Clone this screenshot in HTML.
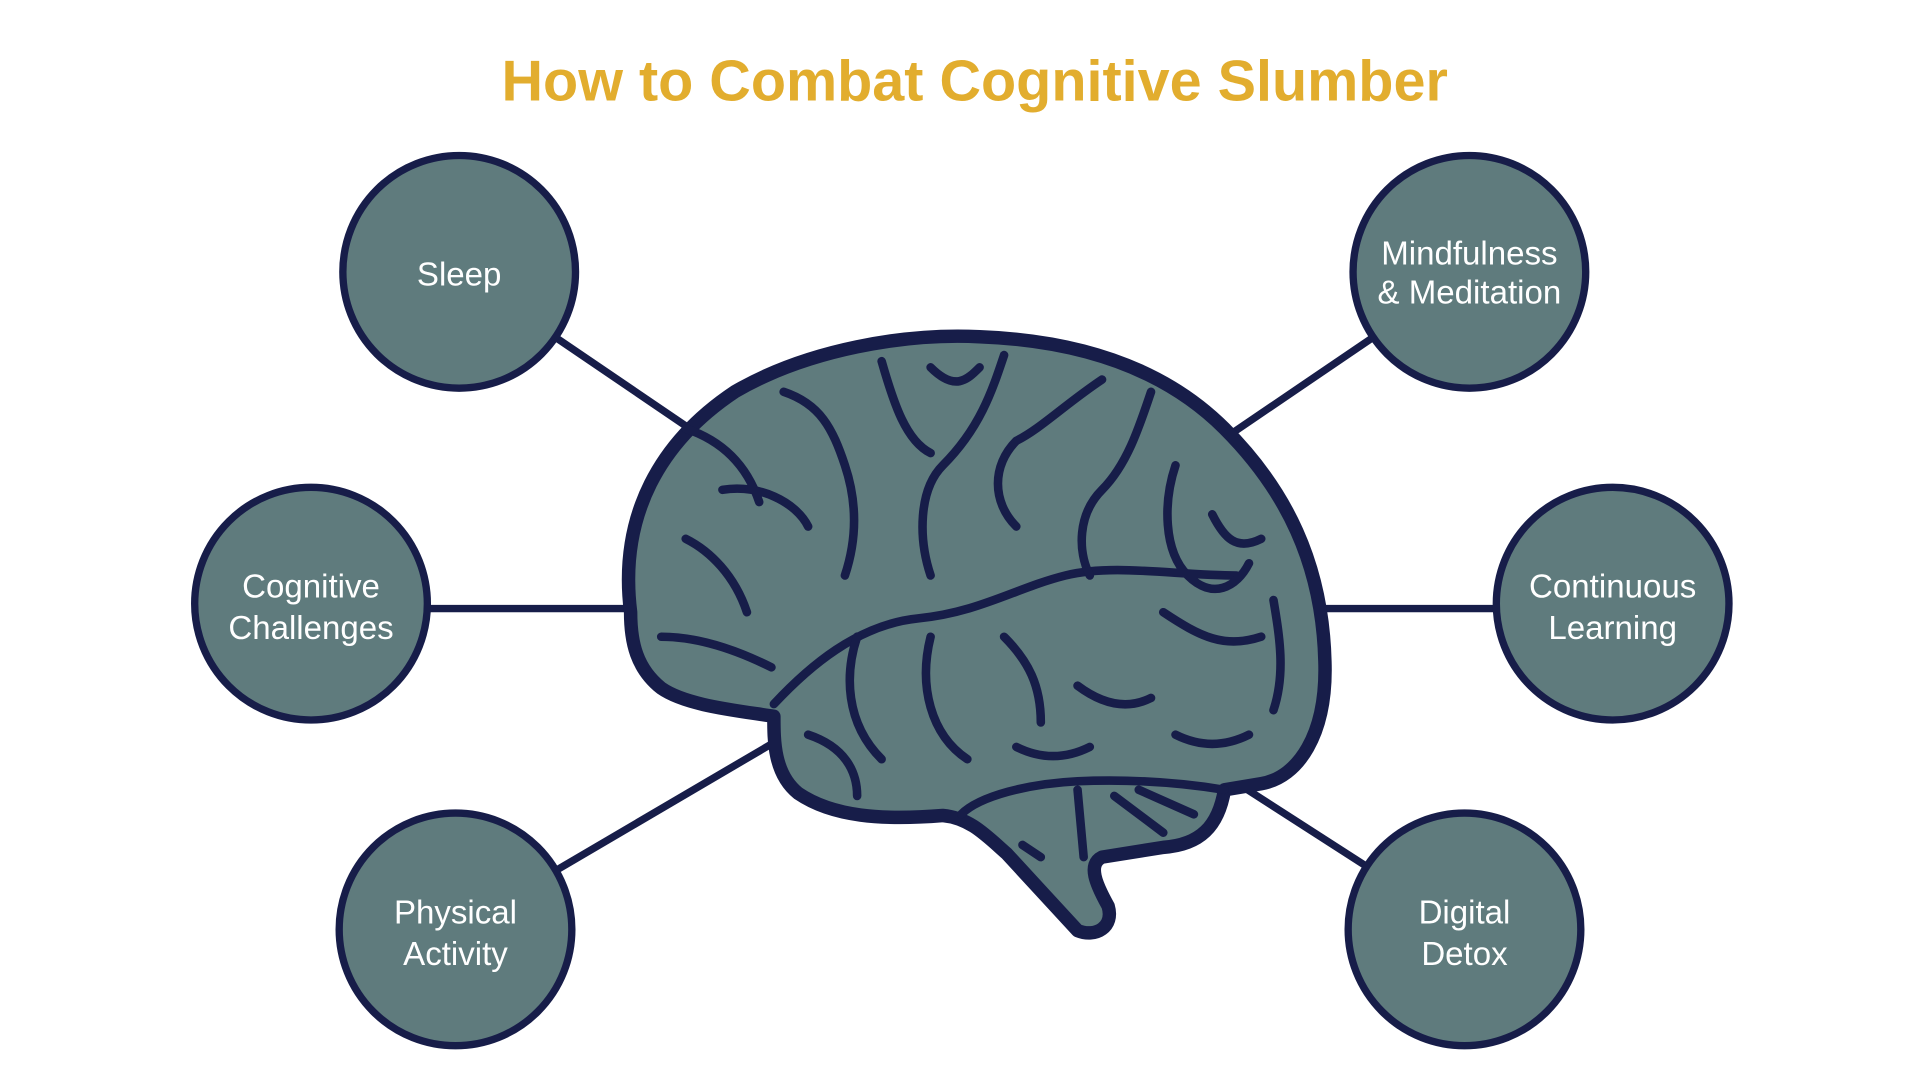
<!DOCTYPE html>
<html><head><meta charset="utf-8"><style>
html,body{margin:0;padding:0;background:#fff;width:1920px;height:1080px;overflow:hidden}
svg{display:block}
</style></head><body>
<svg width="1920" height="1080" viewBox="0 0 1568 882" xmlns="http://www.w3.org/2000/svg">
<text x="796" y="82" text-anchor="middle" font-family="Liberation Sans, sans-serif" font-weight="bold" font-size="47" fill="#E2AD2E">How to Combat Cognitive Slumber</text>
<g stroke="#171D49" stroke-width="6" fill="none">
<line x1="375" y1="222" x2="600" y2="375"/>
<line x1="1200" y1="222" x2="975" y2="375"/>
<line x1="254" y1="497" x2="540" y2="497"/>
<line x1="1317" y1="497" x2="1060" y2="497"/>
<line x1="372" y1="759" x2="660" y2="590"/>
<line x1="1196" y1="759" x2="980" y2="620"/>
</g>
<!-- brain -->
<path d="M515,500 C505,420 540,360 600,320 C660,285 740,272 800,275 C880,278 950,300 1000,350 C1050,400 1080,460 1082,540 C1084,600 1060,635 1030,640 L1000,645 C995,675 980,690 950,692 L900,700 C888,706 895,722 905,740 C910,757 895,766 880,760 L822,697 C805,682 792,668 770,666 C720,670 680,667 652,648 C632,632 632,605 632,585 C600,580 560,576 540,562 C520,546 515,525 515,500 Z" fill="#5F7B7D" stroke="#171D49" stroke-width="11" stroke-linejoin="round"/>
<g stroke="#171D49" stroke-width="7" fill="none" stroke-linecap="round" stroke-linejoin="round">
<path d="M632,575 C660,545 700,510 750,505 C800,500 830,480 870,470 C910,460 960,470 1010,470"/>
<path d="M785,665 C800,650 840,640 880,638 C930,636 970,640 1000,645"/>
<path d="M880,645 L885,700 M910,650 L950,680 M930,645 L975,665"/>
<path d="M560,350 C590,360 610,380 620,410 M590,400 C620,395 650,410 660,430"/>
<path d="M640,320 C670,330 680,350 690,380 C700,410 700,440 690,470"/>
<path d="M720,295 C730,330 740,360 760,370 M760,300 C780,320 790,310 800,300"/>
<path d="M820,290 C810,320 800,350 770,380 C750,400 750,440 760,470"/>
<path d="M900,310 C870,330 850,350 830,360 C810,380 810,410 830,430"/>
<path d="M940,320 C930,350 920,380 900,400 C880,420 880,450 890,470"/>
<path d="M960,380 C950,410 950,450 970,470 C990,490 1010,480 1020,460"/>
<path d="M560,440 C580,450 600,470 610,500 M540,520 C570,520 600,530 630,545"/>
<path d="M990,420 C1000,440 1010,450 1030,440 M1040,490 C1045,520 1050,550 1040,580"/>
<path d="M700,520 C690,550 690,590 720,620 M760,520 C750,560 760,600 790,620"/>
<path d="M820,520 C840,540 850,560 850,590 M880,560 C900,575 920,580 940,570"/>
<path d="M950,500 C980,520 1000,530 1030,520 M960,600 C980,610 1000,610 1020,600"/>
<path d="M660,600 C690,610 700,630 700,650 M830,610 C850,620 870,620 890,610"/>
<path d="M850,700 L835,690"/>
</g>
<g stroke="#171D49" stroke-width="6" fill="#5F7B7D">
<circle cx="375" cy="222" r="95"/>
<circle cx="1200" cy="222" r="95"/>
<circle cx="254" cy="493" r="95"/>
<circle cx="1317" cy="493" r="95"/>
<circle cx="372" cy="759" r="95"/>
<circle cx="1196" cy="759" r="95"/>
</g>
<g font-family="Liberation Sans, sans-serif" font-size="27" fill="#fff" text-anchor="middle">
<text x="375" y="233">Sleep</text>
<text x="1200" y="216">Mindfulness</text>
<text x="1200" y="248">&amp; Meditation</text>
<text x="254" y="488">Cognitive</text>
<text x="254" y="522">Challenges</text>
<text x="1317" y="488">Continuous</text>
<text x="1317" y="522">Learning</text>
<text x="372" y="754">Physical</text>
<text x="372" y="788">Activity</text>
<text x="1196" y="754">Digital</text>
<text x="1196" y="788">Detox</text>
</g>
</svg>
</body></html>
